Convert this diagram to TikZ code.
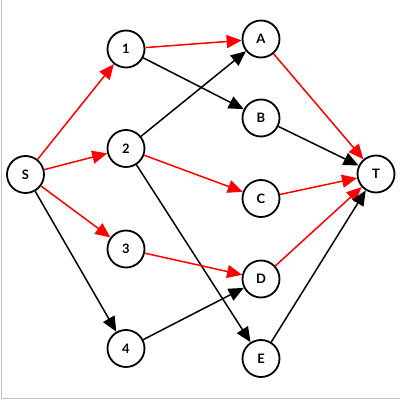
\documentclass[tikz,border=0pt]{standalone}
\usepackage{fontspec}
\setmainfont{Lato}
\usetikzlibrary{arrows.meta}
\begin{document}
\begin{tikzpicture}[x=1pt,y=1pt,
  vtx/.style={circle,draw=black,line width=1.8pt,fill=white,minimum size=37pt,inner sep=0pt,font=\fontsize{13}{13}\selectfont\bfseries},
  redge/.style={draw=red,line width=1.5pt,-{Triangle[length=15pt,width=13pt]}},
  bedge/.style={draw=black,line width=1.5pt,-{Triangle[length=15pt,width=13pt]}}]
\useasboundingbox (0,0) rectangle (400,400);
\draw[color=black!25,line width=1pt] (1.5,400) -- (1.5,1.5) -- (400,1.5);
\node[vtx] (S) at (25.5,225.5) {S};
\node[vtx] (n1) at (126,351) {1};
\node[vtx] (n2) at (126,251.5) {2};
\node[vtx] (n3) at (126,151) {3};
\node[vtx] (n4) at (126,51.5) {4};
\node[vtx] (A) at (261,361) {A};
\node[vtx] (B) at (261,282) {B};
\node[vtx] (C) at (261,201.5) {C};
\node[vtx] (D) at (261,121) {D};
\node[vtx] (E) at (261,41.5) {E};
\node[vtx] (T) at (376,226) {T};
\draw[redge] (S) -- (n1);
\draw[redge] (S) -- (n2);
\draw[redge] (S) -- (n3);
\draw[bedge] (S) -- (n4);
\draw[redge] (n1) -- (A);
\draw[bedge] (n1) -- (B);
\draw[bedge] (n2) -- (A);
\draw[redge] (n2) -- (C);
\draw[bedge] (n2) -- (E);
\draw[redge] (n3) -- (D);
\draw[bedge] (n4) -- (D);
\draw[redge] (A) -- (T);
\draw[bedge] (B) -- (T);
\draw[redge] (C) -- (T);
\draw[redge] (D) -- (T);
\draw[bedge] (E) -- (T);
\end{tikzpicture}
\end{document}
